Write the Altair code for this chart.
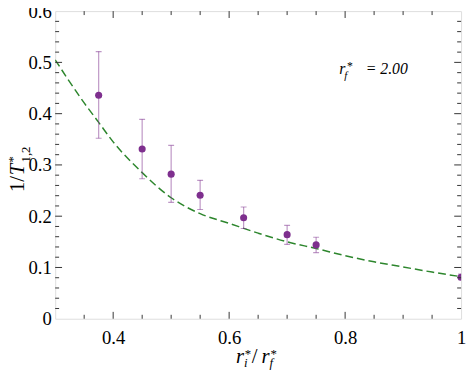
import altair as alt
import pandas as pd

# ---- data ----
x_pts = [0.375, 0.45, 0.50, 0.55, 0.625, 0.70, 0.75, 1.00]
y_pts = [0.436, 0.331, 0.282, 0.241, 0.197, 0.164, 0.144, 0.081]
y_lo = [0.352, 0.273, 0.227, 0.213, 0.176, 0.145, 0.129, 0.076]
y_hi = [0.521, 0.389, 0.338, 0.270, 0.218, 0.182, 0.159, 0.087]

curve_x = [0.30, 0.325, 0.35, 0.375, 0.40, 0.45, 0.50, 0.55, 0.60, 0.65,
           0.70, 0.75, 0.80, 0.85, 0.90, 0.95, 1.00]
curve_y = [0.505, 0.462, 0.421, 0.383, 0.345, 0.285, 0.236, 0.205, 0.186, 0.167,
           0.150, 0.137, 0.123, 0.111, 0.101, 0.091, 0.082]

x_labels = [0.4, 0.6, 0.8, 1.0]
y_labels = [0.0, 0.1, 0.2, 0.3, 0.4, 0.5, 0.6]
x_major = [0.4, 0.6, 0.8]
x_minor = [0.35, 0.45, 0.50, 0.55, 0.65, 0.70, 0.75, 0.85, 0.90, 0.95]
y_major = [0.1, 0.2, 0.3, 0.4, 0.5]
y_minor = [0.02, 0.04, 0.06, 0.08, 0.12, 0.14, 0.16, 0.18, 0.22, 0.24, 0.26, 0.28,
           0.32, 0.34, 0.36, 0.38, 0.42, 0.44, 0.46, 0.48, 0.52, 0.54, 0.56, 0.58]

W, H = 413, 313
FONT = "Liberation Serif"
PURPLE = "#7E2F8E"
GREEN = "#2d862d"
FRAME = "#333333"

xscale = alt.Scale(domain=[0.3, 1.0], nice=False, zero=False)
yscale = alt.Scale(domain=[0.0, 0.6], nice=False, zero=False)
xaxis = alt.Axis(values=x_labels, ticks=False, domain=False, grid=False, title=None,
                 labelExpr="datum.value == 1 ? '1' : format(datum.value, '.1f')",
                 labelFont=FONT, labelFontSize=19, labelColor="black", labelPadding=10,
                 labelFlush=False, labelOverlap=False)
yaxis = alt.Axis(values=y_labels, ticks=False, domain=False, grid=False, title=None,
                 labelExpr="datum.value == 0 ? '0' : format(datum.value, '.1f')",
                 labelFont=FONT, labelFontSize=19, labelColor="black", labelPadding=4,
                 labelFlush=False, labelOverlap=False)


def X(f):
    return alt.X(f, type="quantitative", scale=xscale, axis=xaxis)


def Y(f):
    return alt.Y(f, type="quantitative", scale=yscale, axis=yaxis)


pts = pd.DataFrame({"x": x_pts, "y": y_pts, "lo": y_lo, "hi": y_hi})
curve = pd.DataFrame({"x": curve_x, "y": curve_y})

line = alt.Chart(curve).mark_line(color=GREEN, strokeDash=[8, 4], strokeWidth=1.5,
                                  interpolate="monotone", clip=True).encode(x=X("x"), y=Y("y"))
err = alt.Chart(pts).mark_rule(color=PURPLE, opacity=0.5, strokeWidth=1.2, clip=True).encode(
    x=X("x"), y=Y("lo"), y2="hi")
cap_lo = alt.Chart(pts).mark_tick(color=PURPLE, opacity=0.5, orient="horizontal", size=6,
                                  thickness=1.2, clip=True).encode(x=X("x"), y=Y("lo"))
cap_hi = alt.Chart(pts).mark_tick(color=PURPLE, opacity=0.5, orient="horizontal", size=6,
                                  thickness=1.2, clip=True).encode(x=X("x"), y=Y("hi"))
dots = alt.Chart(pts).mark_circle(color=PURPLE, opacity=1, size=52, clip=True).encode(
    x=X("x"), y=Y("y"))

layers = [line, err, cap_lo, cap_hi, dots]


def xticks(vals, ln):
    d = pd.DataFrame({"x": vals})
    b = alt.Chart(d).mark_rule(color=FRAME, strokeWidth=1).encode(
        x=X("x"), y=alt.value(H), y2=alt.value(H - ln))
    t = alt.Chart(d).mark_rule(color=FRAME, strokeWidth=1).encode(
        x=X("x"), y=alt.value(0), y2=alt.value(ln))
    return [b, t]


def yticks(vals, ln):
    d = pd.DataFrame({"y": vals})
    l = alt.Chart(d).mark_rule(color=FRAME, strokeWidth=1).encode(
        y=Y("y"), x=alt.value(0), x2=alt.value(ln))
    r = alt.Chart(d).mark_rule(color=FRAME, strokeWidth=1).encode(
        y=Y("y"), x=alt.value(W), x2=alt.value(W - ln))
    return [l, r]


layers += xticks(x_major, 7) + xticks(x_minor, 4) + yticks(y_major, 7) + yticks(y_minor, 4)

one = pd.DataFrame({"a": [0]})


def txt(s, x, y, size, italic=False, angle=0, dx=0, dy=0):
    props = dict(text=s, font=FONT, fontSize=size, fontStyle="italic" if italic else "normal",
                 align="left", baseline="alphabetic", color="black")
    if angle:
        props["angle"] = angle
    if dx:
        props["dx"] = dx
    if dy:
        props["dy"] = dy
    return alt.Chart(one).mark_text(**props).encode(x=alt.value(x), y=alt.value(y))


# x-axis title  r*_i / r*_f
layers += [
    txt("r", 184, 358, 21, italic=True),
    txt("*", 193, 353, 13),
    txt("i", 192, 362, 13, italic=True),
    txt("/", 200, 358, 21),
    txt("r", 210, 358, 21, italic=True),
    txt("*", 219, 353, 13),
    txt("f", 218, 362, 13, italic=True),
]

# y-axis title  1/T*_{1,2} (rotated)
ax, ay = -32, 184
layers += [
    txt("1/", ax, ay, 21, angle=270),
    txt("T", ax, ay, 21, italic=True, angle=270, dx=17),
    txt("*", ax, ay, 13, angle=270, dx=30, dy=-7),
    txt("1,2", ax, ay, 13, angle=270, dx=30, dy=6),
]

# annotation  r_f* = 2.00
layers += [
    txt("r", 289, 64, 16, italic=True),
    txt("f", 294, 69, 11, italic=True),
    txt("*", 297, 60, 12),
    txt("= 2.00", 316, 64, 16, italic=True),
]

chart = alt.layer(*layers).properties(
    width=W, height=H,
    autosize=alt.AutoSizeParams(type="none"),
    padding={"left": 48, "top": 0, "right": 5, "bottom": 50},
).configure_view(stroke=FRAME, strokeWidth=1.4).configure(background="white")

chart.save("out.html", embed_options={"renderer": "svg", "actions": False})
